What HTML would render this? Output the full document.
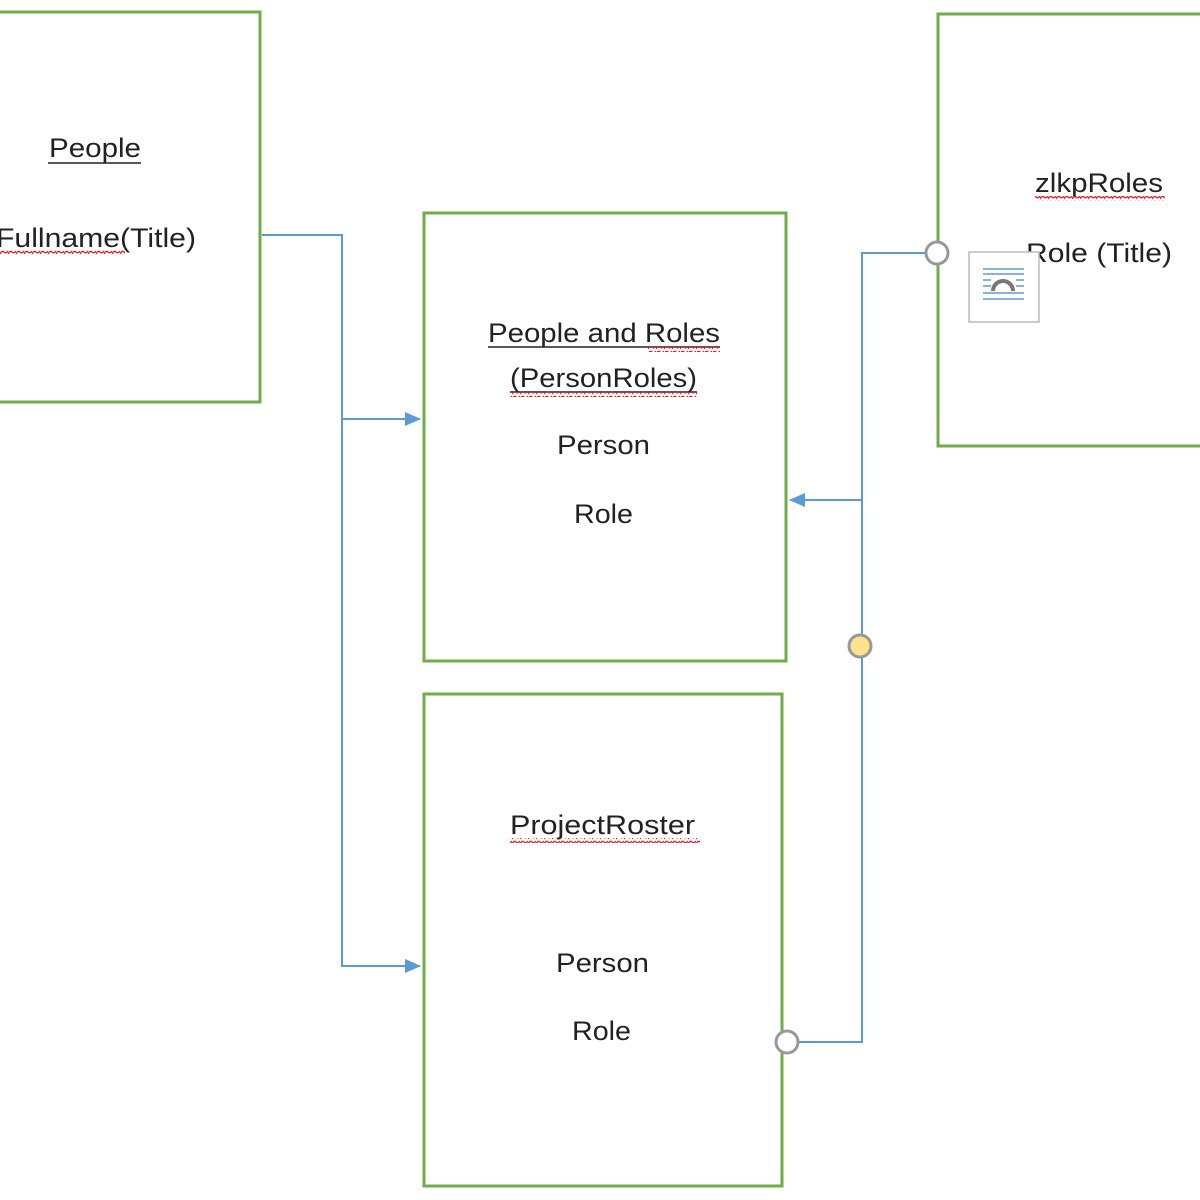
<!DOCTYPE html>
<html><head><style>html,body{margin:0;padding:0;background:#fff}svg{display:block}</style></head>
<body>
<svg width="1200" height="1200" viewBox="0 0 1200 1200" xmlns="http://www.w3.org/2000/svg" font-family="Liberation Sans, sans-serif" font-size="27" fill="#222">
<defs>
<marker id="a" markerWidth="16" markerHeight="16" refX="15" refY="8" orient="auto" markerUnits="userSpaceOnUse"><path d="M0,1 L16,8 L0,15 z" fill="#5b9bd5"/></marker>
<pattern id="sq" width="8" height="5" patternUnits="userSpaceOnUse"><path d="M0,4 Q2,0 4,2 T8,1" stroke="#e0202a" stroke-width="1.4" fill="none"/></pattern>
</defs>
<g fill="none" stroke="#70ad47" stroke-width="3">
<rect x="-10" y="12" width="270" height="390"/>
<rect x="424" y="213" width="362" height="448"/>
<rect x="424" y="694" width="358" height="492"/>
<rect x="938" y="14" width="280" height="432"/>
</g>
<g fill="none" stroke="#5b9bd5" stroke-width="2">
<polyline points="262,235 342,235 342,966 420,966" marker-end="url(#a)"/>
<line x1="342" y1="419" x2="420" y2="419" marker-end="url(#a)"/>
<polyline points="928,253 862,253 862,500 790,500" marker-end="url(#a)"/>
<polyline points="862,500 862,1042 795,1042"/>
</g>
<circle cx="937" cy="253" r="11" fill="#fff" stroke="#999" stroke-width="3"/>
<circle cx="787" cy="1042" r="11" fill="#fff" stroke="#999" stroke-width="3"/>
<circle cx="860" cy="646" r="11" fill="#fbe38e" stroke="#999" stroke-width="3"/>
<g lengthAdjust="spacingAndGlyphs">
<text x="49" y="157" textLength="92" lengthAdjust="spacingAndGlyphs">People</text>
<text x="488" y="342" textLength="232" lengthAdjust="spacingAndGlyphs">People and Roles</text>
<text x="510" y="387" textLength="187" lengthAdjust="spacingAndGlyphs">(PersonRoles)</text>
<text x="557" y="454" textLength="93" lengthAdjust="spacingAndGlyphs">Person</text>
<text x="574" y="523" textLength="59" lengthAdjust="spacingAndGlyphs">Role</text>
<text x="510" y="834" textLength="185" lengthAdjust="spacingAndGlyphs">ProjectRoster</text>
<text x="556" y="972" textLength="93" lengthAdjust="spacingAndGlyphs">Person</text>
<text x="572" y="1040" textLength="59" lengthAdjust="spacingAndGlyphs">Role</text>
<text x="1035" y="192" textLength="128" lengthAdjust="spacingAndGlyphs">zlkpRoles</text>
<text x="-4" y="247" textLength="200" lengthAdjust="spacingAndGlyphs">Fullname(Title)</text>
<text x="1026" y="262" textLength="146" lengthAdjust="spacingAndGlyphs">Role (Title)</text>
</g>
<g stroke="#222" stroke-width="1.5">
<line x1="48" y1="163" x2="141" y2="163"/>
<line x1="488" y1="347" x2="720" y2="347"/>
<line x1="510" y1="392" x2="697" y2="392"/>
</g>
<rect x="0" y="250" width="125" height="5" fill="url(#sq)"/>
<rect x="648" y="347" width="72" height="5" fill="url(#sq)"/>
<rect x="510" y="392" width="187" height="5" fill="url(#sq)"/>
<rect x="510" y="838" width="190" height="5" fill="url(#sq)"/>
<rect x="1035" y="196" width="130" height="5" fill="url(#sq)"/>
<rect x="969" y="252" width="70" height="70" fill="#fff" stroke="#bbb" stroke-width="1.5"/>
<g stroke="#5b9bd5" stroke-width="1.5">
<line x1="983" y1="269" x2="1024" y2="269"/><line x1="983" y1="274" x2="1024" y2="274"/>
<line x1="983" y1="280" x2="991" y2="280"/><line x1="1016" y1="280" x2="1024" y2="280"/>
<line x1="983" y1="286" x2="991" y2="286"/><line x1="1016" y1="286" x2="1024" y2="286"/>
<line x1="983" y1="293" x2="1024" y2="293"/><line x1="983" y1="299" x2="1024" y2="299"/>
</g>
<path d="M993,291 A10,10 0 0 1 1013,291" fill="none" stroke="#777" stroke-width="4"/>
</svg>
</body></html>
